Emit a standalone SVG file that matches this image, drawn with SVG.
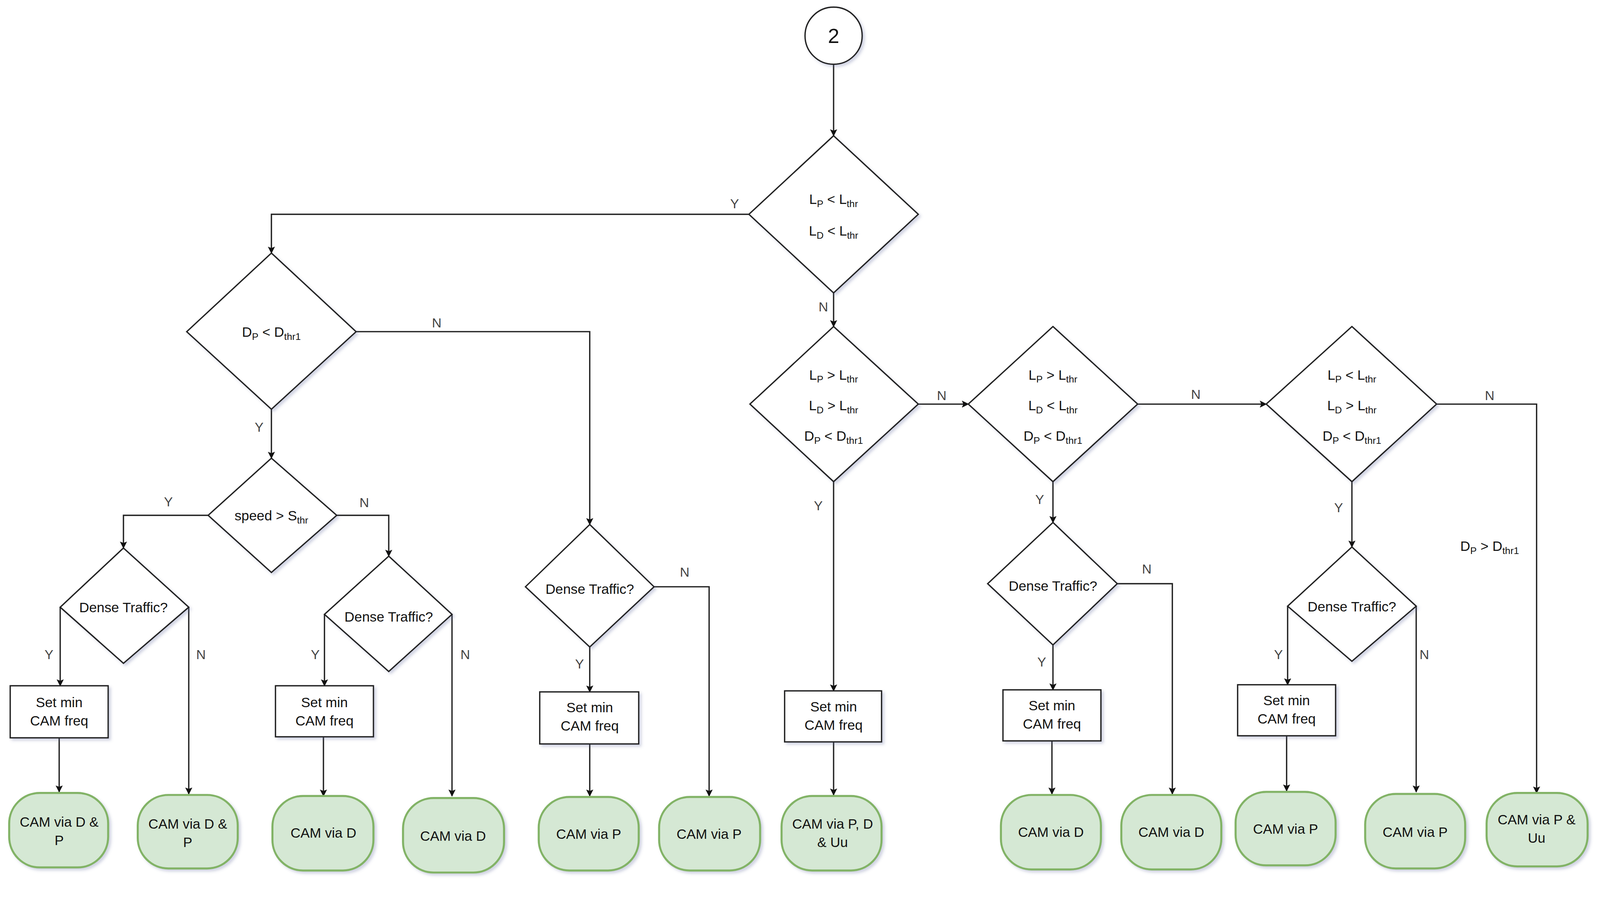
<svg xmlns="http://www.w3.org/2000/svg" width="4248" height="2342" viewBox="0 0 4248 2342">
<style>
.d{fill:#fff;stroke:#222;stroke-width:1.3;filter:url(#sh)}
.b{fill:#fff;stroke:#222;stroke-width:1.3;filter:url(#sh)}
.t{fill:#d5e8d4;stroke:#82b366;stroke-width:2;filter:url(#sh)}
text{font-family:"Liberation Sans",Arial,sans-serif;font-size:13.5px;fill:#111;text-anchor:middle}
.l{font-size:13px;fill:#444}
.c path{fill:none;stroke:#222;stroke-width:1.3;marker-end:url(#a)}
.s{font-size:9.5px}
</style>
<defs>
<marker id="a" viewBox="0 0 10 10" refX="9" refY="5" markerWidth="7" markerHeight="7" markerUnits="userSpaceOnUse" orient="auto"><path d="M0,0 L10,5 L0,10 L2,5 Z" fill="#111"/></marker>
<filter id="sh" x="-10%" y="-10%" width="130%" height="130%"><feDropShadow dx="2" dy="2" stdDeviation="1.5" flood-color="#6670a0" flood-opacity="0.3"/></filter>
</defs>
<rect width="4248" height="2342" fill="#fff"/>
<g transform="scale(2.612)">
<g class="c" id="connectors">
<path d="M817,63 V133"/>
<path d="M734,210 H266 V248"/>
<path d="M349,325 H578 V514"/>
<path d="M266,401 V449"/>
<path d="M204,505 H121 V537"/>
<path d="M330,505 H381 V545"/>
<path d="M59,595 V672"/>
<path d="M185,595 V778"/>
<path d="M58,723 V776"/>
<path d="M318,602 V672"/>
<path d="M443,602 V780"/>
<path d="M317,722 V780"/>
<path d="M578,634 V678"/>
<path d="M641,575 H695 V780"/>
<path d="M578,729 V780"/>
<path d="M817,287 V320"/>
<path d="M817,472 V677"/>
<path d="M817,727 V779"/>
<path d="M900,396 H949"/>
<path d="M1032,472 V512"/>
<path d="M1115,396 H1241"/>
<path d="M1032,632 V676"/>
<path d="M1095,572 H1149 V778"/>
<path d="M1031,726 V778"/>
<path d="M1325,472 V536"/>
<path d="M1408,396 H1506 V777"/>
<path d="M1262,594 V671"/>
<path d="M1388,594 V776"/>
<path d="M1261,721 V775"/>
</g>
<g id="labels">
<text class="l" x="720" y="204">Y</text>
<text class="l" x="428" y="321">N</text>
<text class="l" x="254" y="423">Y</text>
<text class="l" x="165" y="496">Y</text>
<text class="l" x="357" y="497">N</text>
<text class="l" x="48" y="646">Y</text>
<text class="l" x="197" y="646">N</text>
<text class="l" x="309" y="646">Y</text>
<text class="l" x="456" y="646">N</text>
<text class="l" x="568" y="655">Y</text>
<text class="l" x="671" y="565">N</text>
<text class="l" x="807" y="305">N</text>
<text class="l" x="802" y="500">Y</text>
<text class="l" x="923" y="392">N</text>
<text class="l" x="1019" y="494">Y</text>
<text class="l" x="1172" y="391">N</text>
<text class="l" x="1021" y="653">Y</text>
<text class="l" x="1124" y="562">N</text>
<text class="l" x="1312" y="502">Y</text>
<text class="l" x="1460" y="392">N</text>
<text class="l" x="1253" y="646">Y</text>
<text class="l" x="1396" y="646">N</text>
<text x="1460" y="540">D<tspan class="s" dy="3">P</tspan><tspan dy="-3"> &gt; D</tspan><tspan class="s" dy="3">thr1</tspan></text>
</g>
<g id="start"><circle cx="817" cy="35" r="28" class="d"/><text x="817" y="42" style="font-size:20px">2</text></g>
<g id="d1"><polygon class="d" points="817,133 900,210 817,287 734,210"/>
<text x="817" y="200">L<tspan class="s" dy="3">P</tspan><tspan dy="-3"> &lt; L</tspan><tspan class="s" dy="3">thr</tspan></text>
<text x="817" y="231">L<tspan class="s" dy="3">D</tspan><tspan dy="-3"> &lt; L</tspan><tspan class="s" dy="3">thr</tspan></text></g>
<g id="d2"><polygon class="d" points="266,248 349,325 266,401 183,325"/>
<text x="266" y="330">D<tspan class="s" dy="3">P</tspan><tspan dy="-3"> &lt; D</tspan><tspan class="s" dy="3">thr1</tspan></text></g>
<g id="d3"><polygon class="d" points="266,449 330,505 266,561 204,505"/>
<text x="266" y="510">speed &gt; S<tspan class="s" dy="3">thr</tspan></text></g>
<g id="d4"><polygon class="d" points="121,537 185,595 121,650 59,595"/><text x="121" y="600">Dense Traffic?</text></g>
<g id="d5"><polygon class="d" points="381,545 443,602 381,658 318,602"/><text x="381" y="609">Dense Traffic?</text></g>
<g id="d6"><polygon class="d" points="578,514 641,575 578,634 515,575"/><text x="578" y="582">Dense Traffic?</text></g>
<g id="d7"><polygon class="d" points="817,320 900,396 817,472 735,396"/>
<text x="817" y="372">L<tspan class="s" dy="3">P</tspan><tspan dy="-3"> &gt; L</tspan><tspan class="s" dy="3">thr</tspan></text>
<text x="817" y="402">L<tspan class="s" dy="3">D</tspan><tspan dy="-3"> &gt; L</tspan><tspan class="s" dy="3">thr</tspan></text>
<text x="817" y="432">D<tspan class="s" dy="3">P</tspan><tspan dy="-3"> &lt; D</tspan><tspan class="s" dy="3">thr1</tspan></text></g>
<g id="d8"><polygon class="d" points="1032,320 1115,396 1032,472 949,396"/>
<text x="1032" y="372">L<tspan class="s" dy="3">P</tspan><tspan dy="-3"> &gt; L</tspan><tspan class="s" dy="3">thr</tspan></text>
<text x="1032" y="402">L<tspan class="s" dy="3">D</tspan><tspan dy="-3"> &lt; L</tspan><tspan class="s" dy="3">thr</tspan></text>
<text x="1032" y="432">D<tspan class="s" dy="3">P</tspan><tspan dy="-3"> &lt; D</tspan><tspan class="s" dy="3">thr1</tspan></text></g>
<g id="d9"><polygon class="d" points="1032,512 1095,572 1032,632 968,572"/><text x="1032" y="579">Dense Traffic?</text></g>
<g id="d10"><polygon class="d" points="1325,320 1408,396 1325,472 1241,396"/>
<text x="1325" y="372">L<tspan class="s" dy="3">P</tspan><tspan dy="-3"> &lt; L</tspan><tspan class="s" dy="3">thr</tspan></text>
<text x="1325" y="402">L<tspan class="s" dy="3">D</tspan><tspan dy="-3"> &gt; L</tspan><tspan class="s" dy="3">thr</tspan></text>
<text x="1325" y="432">D<tspan class="s" dy="3">P</tspan><tspan dy="-3"> &lt; D</tspan><tspan class="s" dy="3">thr1</tspan></text></g>
<g id="d11"><polygon class="d" points="1325,536 1388,594 1325,648 1262,594"/><text x="1325" y="599">Dense Traffic?</text></g>
<g id="box1"><rect class="b" x="10" y="672" width="96" height="51"/><text x="58" y="693">Set min</text><text x="58" y="711">CAM freq</text></g>
<g id="box2"><rect class="b" x="270" y="672" width="96" height="50"/><text x="318" y="693">Set min</text><text x="318" y="711">CAM freq</text></g>
<g id="box3"><rect class="b" x="529" y="678" width="97" height="51"/><text x="578" y="698">Set min</text><text x="578" y="716">CAM freq</text></g>
<g id="box4"><rect class="b" x="769" y="677" width="95" height="50"/><text x="817" y="697">Set min</text><text x="817" y="715">CAM freq</text></g>
<g id="box5"><rect class="b" x="983" y="676" width="96" height="50"/><text x="1031" y="696">Set min</text><text x="1031" y="714">CAM freq</text></g>
<g id="box6"><rect class="b" x="1213" y="671" width="96" height="50"/><text x="1261" y="691">Set min</text><text x="1261" y="709">CAM freq</text></g>
<g id="t1"><rect class="t" x="9" y="777" width="97" height="73" rx="30"/><text x="58" y="810">CAM via D &amp;</text><text x="58" y="828">P</text></g>
<g id="t2"><rect class="t" x="135" y="779" width="98" height="72" rx="30"/><text x="184" y="812">CAM via D &amp;</text><text x="184" y="830">P</text></g>
<g id="t3"><rect class="t" x="267" y="780" width="99" height="73" rx="30"/><text x="317" y="821">CAM via D</text></g>
<g id="t4"><rect class="t" x="395" y="782" width="99" height="73" rx="30"/><text x="444" y="824">CAM via D</text></g>
<g id="t5"><rect class="t" x="528" y="781" width="98" height="72" rx="30"/><text x="577" y="822">CAM via P</text></g>
<g id="t6"><rect class="t" x="646" y="781" width="99" height="72" rx="30"/><text x="695" y="822">CAM via P</text></g>
<g id="t7"><rect class="t" x="766" y="780" width="98" height="73" rx="30"/><text x="816" y="812">CAM via P, D</text><text x="816" y="830">&amp; Uu</text></g>
<g id="t8"><rect class="t" x="981" y="779" width="98" height="73" rx="30"/><text x="1030" y="820">CAM via D</text></g>
<g id="t9"><rect class="t" x="1099" y="779" width="98" height="73" rx="30"/><text x="1148" y="820">CAM via D</text></g>
<g id="t10"><rect class="t" x="1211" y="776" width="98" height="72" rx="30"/><text x="1260" y="817">CAM via P</text></g>
<g id="t11"><rect class="t" x="1338" y="778" width="98" height="73" rx="30"/><text x="1387" y="820">CAM via P</text></g>
<g id="t12"><rect class="t" x="1457" y="777" width="99" height="72" rx="30"/><text x="1506" y="808">CAM via P &amp;</text><text x="1506" y="826">Uu</text></g>
</g>
</svg>
